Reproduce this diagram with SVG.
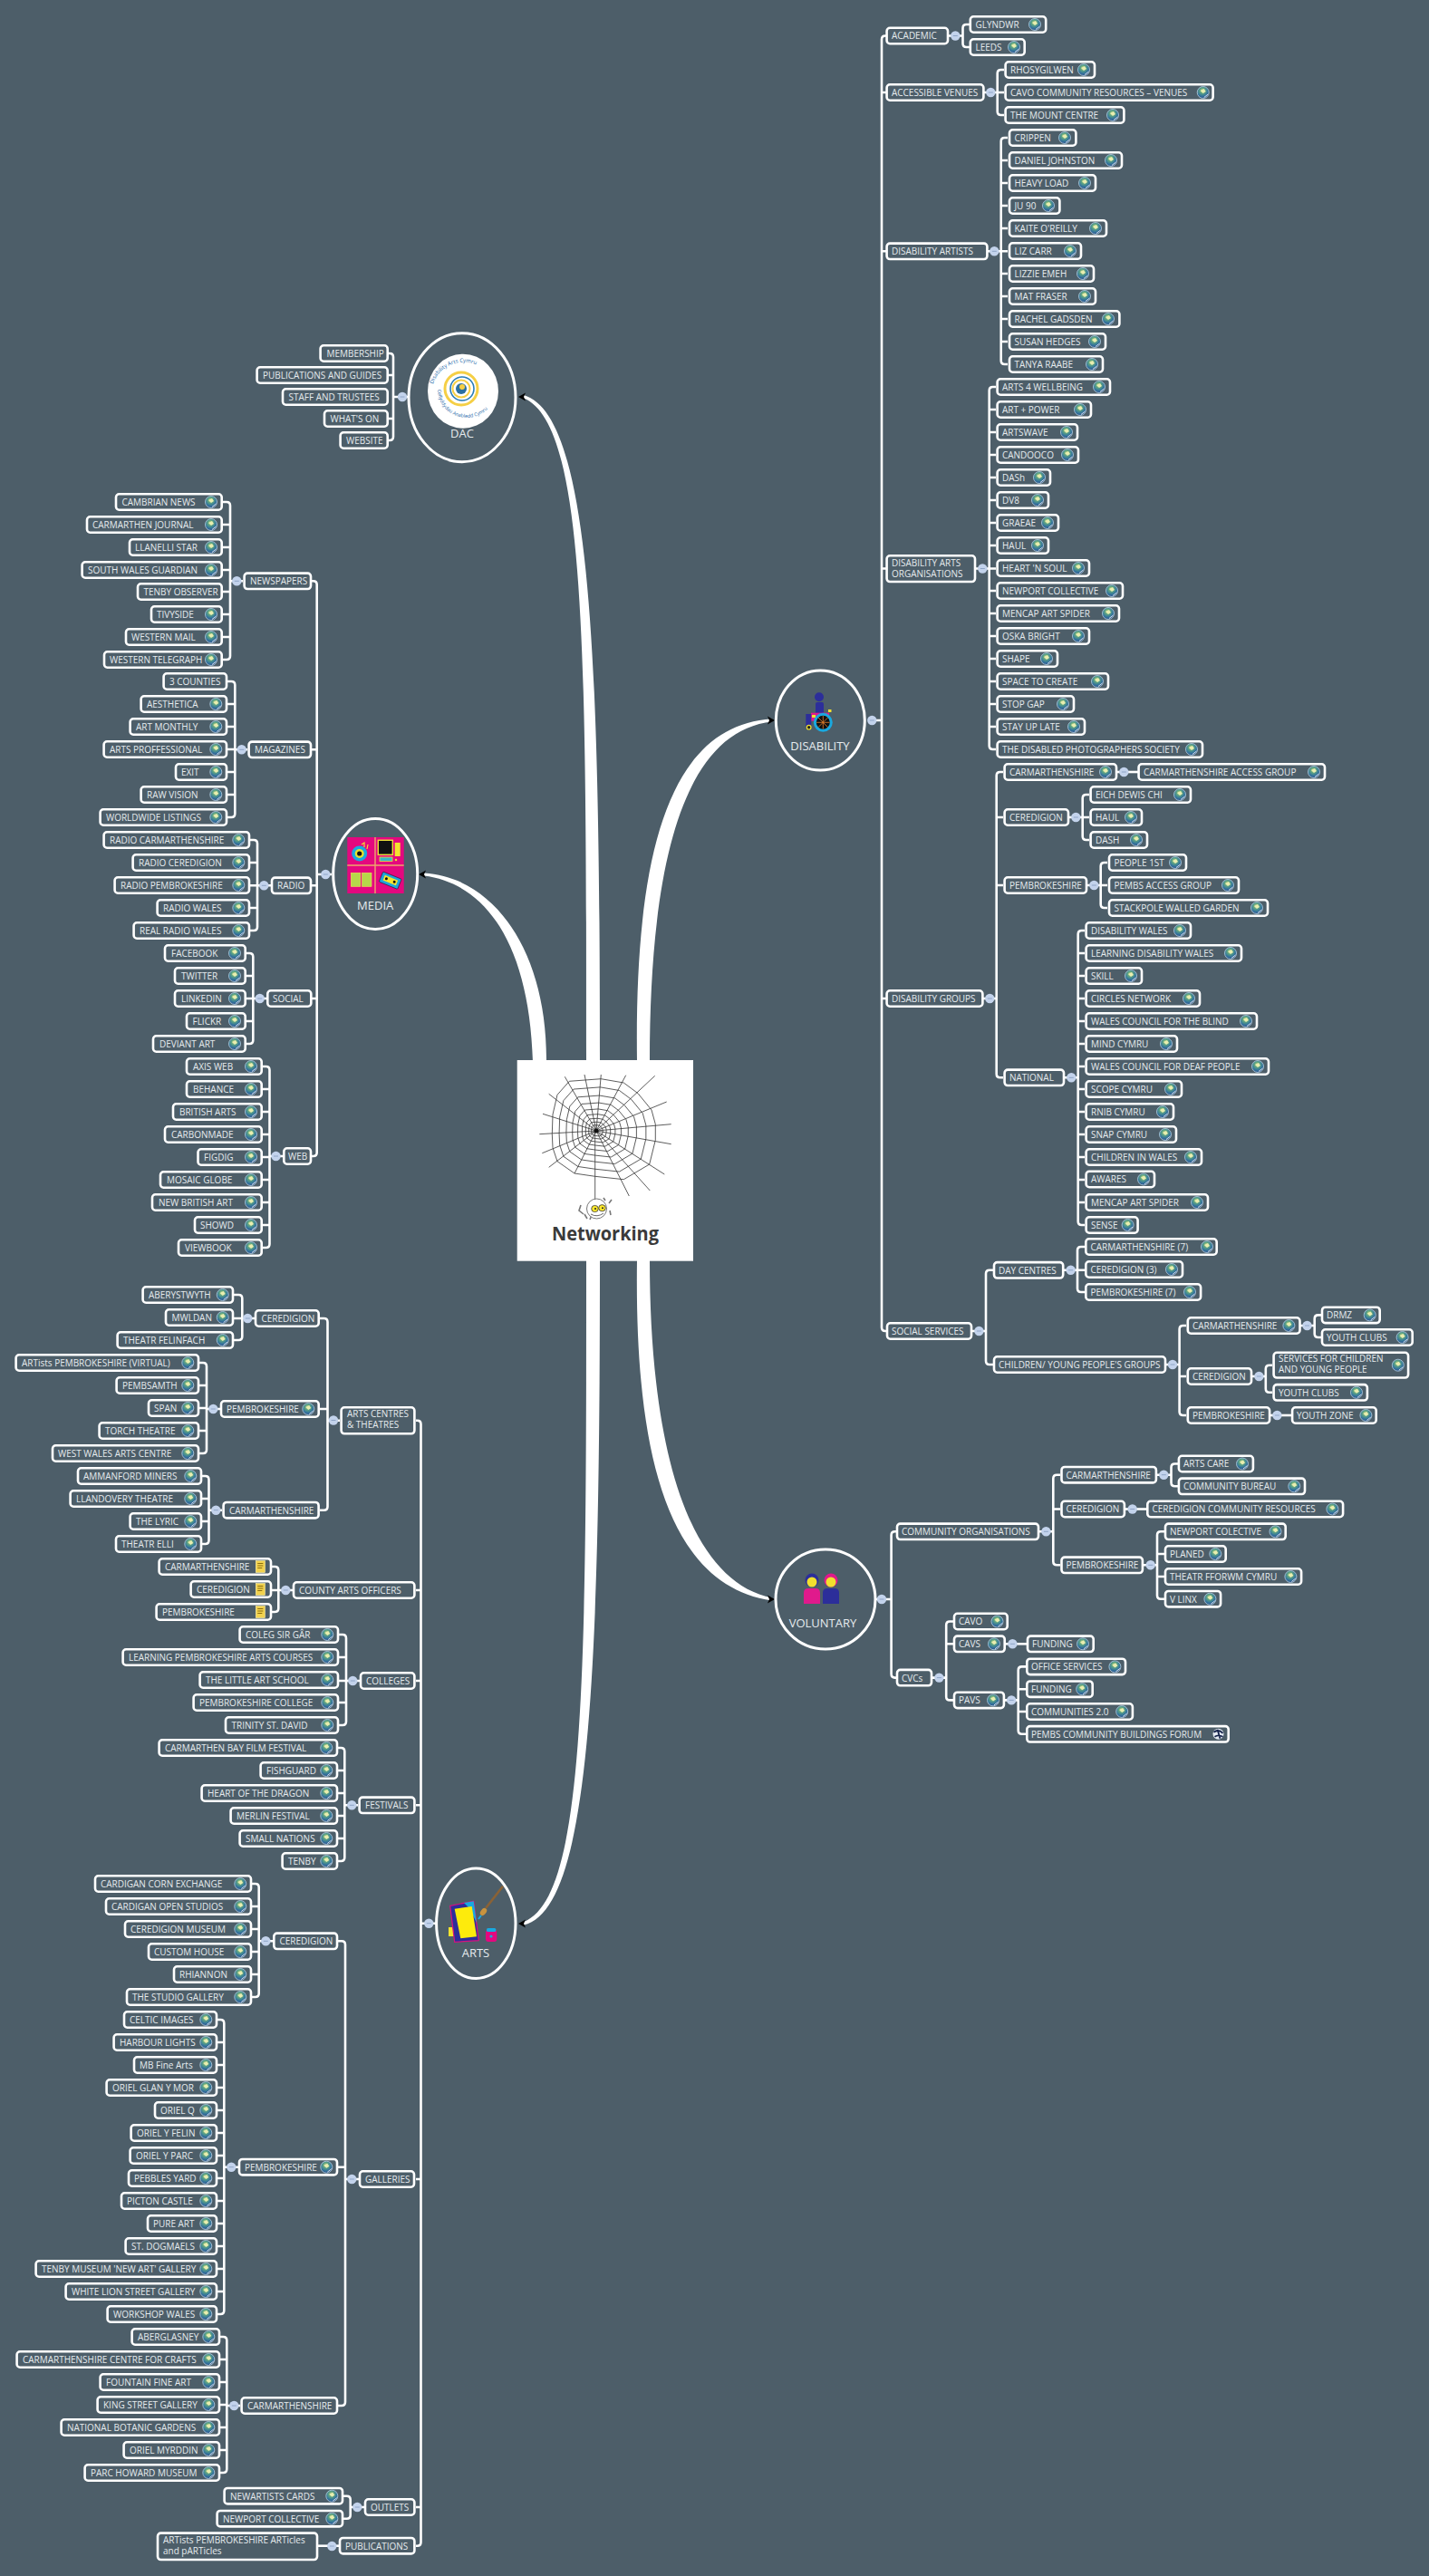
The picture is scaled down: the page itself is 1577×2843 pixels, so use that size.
<svg xmlns="http://www.w3.org/2000/svg" width="1577" height="2843" viewBox="0 0 1577 2843">
<style>
.n rect{fill:#4d5e69;stroke:#fff;stroke-width:2.6;rx:3.5px}
.n text{font-family:"Open Sans","Noto Sans",sans-serif;font-size:11px;fill:#e6ebee;transform-box:fill-box;transform-origin:0 50%;transform:scaleX(.907)}
.m ellipse.o{fill:#4d5e69;stroke:#fff;stroke-width:3}
.m text.l{font-family:"Open Sans","Noto Sans",sans-serif;font-size:13px;fill:#e6ebee;text-anchor:middle}
#links path{fill:none;stroke:#fff;stroke-width:2.6}
#trunks path{fill:#fff;stroke:none}
</style>
<defs>
<radialGradient id="gg" cx=".45" cy=".35" r=".7"><stop offset="0" stop-color="#dfe27a"/><stop offset=".3" stop-color="#5fa583"/><stop offset=".65" stop-color="#33759c"/><stop offset="1" stop-color="#2c4486"/></radialGradient>
<g id="g"><circle r="6.5" fill="url(#gg)" stroke="#a9c6d8" stroke-width=".9"/><path d="M-3-2 1-4 3-1 0 1z" fill="#e8eeb0"/><path d="M1 5.5 5.5 2" stroke="#fff" stroke-width=".8" fill="none"/></g>
<g id="x"><circle r="5.2" fill="#c3d3ec"/><path d="M-2.5 0H2.5" stroke="#8ea4c6" stroke-width="1"/></g>
<g id="k"><rect x="-5" y="-6.5" width="10" height="13" fill="#f2d24e" stroke="#fff3b0" stroke-width=".6"/><path d="M-3-3.5H3M-3-1H3M-3 1.5H2" stroke="#8a6d10" stroke-width="1"/></g>
<g id="d"><circle r="6" fill="#e4eaf2"/><path d="M-5-2Q0-6 5-1M-4 3Q0 0 5 3M-1-5 2 5" stroke="#14224a" stroke-width="1.8" fill="none"/></g>
<polygon id="ring" points="628.3,1193.3 663.3,1190.7 688.3,1195 704,1206.7 719,1225 723.3,1240.7 723.3,1258.3 716.7,1285 688.3,1301.7 656.7,1298.3 634,1295 615,1281.7 610,1266.7 609.3,1251.7 610,1230 615,1208.3" fill="none" stroke="#333" stroke-width=".8" vector-effect="non-scaling-stroke"/>
<path id="dacTop" d="M478 424A35 34 0 0 1 545 424"/>
<path id="dacBot" d="M483 430A32 31 0 0 0 541 448"/>
</defs>
<rect width="1577" height="2843" fill="#4d5e69"/>
<g id="trunks">
<path d="M588 1172C584 1040 535 975 468 966.5L468 963.5C545 968 604 1050 603 1172Z"/>
<path d="M647 1172C647 720 647 468 578 439.5L578 436C652 458 662 720 662 1172Z"/>
<path d="M703 1172C700 950 735 800 852 793.5L852 796.5C755 807 717 950 717 1172Z"/>
<path d="M647 1390C647 1842 647 2094 578 2121L578 2124.5C652 2108 662 1842 662 1390Z"/>
<path d="M703 1390C700 1600 735 1750 852 1766.5L852 1763.5C760 1745 717 1600 717 1390Z"/>
<polygon points="462,965 470,960.5 468,965 470,969.5"/>
<polygon points="572,438 580,433.5 578,438 580,442.5"/>
<polygon points="855,795 847,790.5 849,795 847,799.5"/>
<polygon points="572,2123 580,2118.5 578,2123 580,2127.5"/>
<polygon points="855,1765 847,1760.5 849,1765 847,1769.5"/>
</g>
<g id="links">
<path d="M978 39.5H977Q973 39.5 973 43.5V1465Q973 1469 977 1469H979M973 102H978M973 277.3H978M973 627.5H978M973 1102H978M966 795H973"/>
<path d="M1047 39.5H1062.5M1070 27H1066.5Q1062.5 27 1062.5 31V48Q1062.5 52 1066.5 52H1070"/>
<path d="M1086 102H1108M1108 77H1104.7Q1100.7 77 1100.7 81V123Q1100.7 127 1104.7 127H1108"/>
<path d="M1090 277.3H1112M1112 152H1108.7Q1104.7 152 1104.7 156V398Q1104.7 402 1108.7 402H1112M1105 177H1112M1105 202H1112M1105 227H1112M1105 252H1112M1105 302H1112M1105 327H1112M1105 352H1112M1105 377H1112"/>
<path d="M1077 627.5H1099M1099 427H1095.7Q1091.7 427 1091.7 431V823Q1091.7 827 1095.7 827H1099M1092 452H1099M1092 477H1099M1092 502H1099M1092 527H1099M1092 552H1099M1092 577H1099M1092 602H1099M1092 652H1099M1092 677H1099M1092 702H1099M1092 727H1099M1092 752H1099M1092 777H1099M1092 802H1099"/>
<path d="M1085 1102H1099.7M1107 852H1103.7Q1099.7 852 1099.7 856V1185.3Q1099.7 1189.3 1103.7 1189.3H1107M1100 902H1107M1100 977H1107"/>
<path d="M1233 852H1256"/>
<path d="M1180 902H1202M1202 877H1198.7Q1194.7 877 1194.7 881V923Q1194.7 927 1198.7 927H1202"/>
<path d="M1200 977H1222M1222 952H1218.7Q1214.7 952 1214.7 956V998Q1214.7 1002 1218.7 1002H1222"/>
<path d="M1175 1189.3H1189.7M1197 1027H1193.7Q1189.7 1027 1189.7 1031V1348Q1189.7 1352 1193.7 1352H1197M1190 1052H1197M1190 1077H1197M1190 1102H1197M1190 1127H1197M1190 1152H1197M1190 1177H1197M1190 1202H1197M1190 1227H1197M1190 1252H1197M1190 1277H1197M1190 1302H1197M1190 1327H1197"/>
<path d="M1073 1469H1088M1096 1401.8H1092Q1088 1401.8 1088 1405.8V1502Q1088 1506 1092 1506H1096"/>
<path d="M1174 1401.8H1197M1197 1376H1193Q1189 1376 1189 1380V1422Q1189 1426 1193 1426H1197"/>
<path d="M1287 1506H1301.6M1309 1463H1305.6Q1301.6 1463 1301.6 1467V1558Q1301.6 1562 1305.6 1562H1309M1302 1519H1309"/>
<path d="M1435 1463H1450.7M1458 1451.4H1454.7Q1450.7 1451.4 1450.7 1455.4V1472Q1450.7 1476 1454.7 1476H1458"/>
<path d="M1382 1519H1396.8M1404 1506.7H1400.8Q1396.8 1506.7 1396.8 1510.7V1532.8Q1396.8 1536.8 1400.8 1536.8H1404"/>
<path d="M1402 1562H1426"/>
<path d="M966 1765H983.6M989 1690.3H987.6Q983.6 1690.3 983.6 1694.3V1847.6Q983.6 1851.6 987.6 1851.6H989"/>
<path d="M1147 1690.3H1162.3M1170 1627.7H1166.3Q1162.3 1627.7 1162.3 1631.7V1723.3Q1162.3 1727.3 1166.3 1727.3H1170M1162 1665.5H1170"/>
<path d="M1277 1627.7H1292.5M1300 1615.5H1296.5Q1292.5 1615.5 1292.5 1619.5V1636.3Q1292.5 1640.3 1296.5 1640.3H1300"/>
<path d="M1242 1665.5H1266"/>
<path d="M1262 1727.3H1277M1285 1690.3H1281Q1277 1690.3 1277 1694.3V1760.7Q1277 1764.7 1281 1764.7H1285M1277 1715H1285M1277 1740H1285"/>
<path d="M1029 1851.6H1044.2M1052 1789.5H1048.2Q1044.2 1789.5 1044.2 1793.5V1872.4Q1044.2 1876.4 1048.2 1876.4H1052M1044 1814.3H1052"/>
<path d="M1110 1814.3H1133"/>
<path d="M1109 1876.4H1123.7M1132 1839.4H1127.7Q1123.7 1839.4 1123.7 1843.4V1909.8Q1123.7 1913.8 1127.7 1913.8H1132M1124 1864.2H1132M1124 1889H1132"/>
<path d="M450 438H434M429 390H430Q434 390 434 394V482Q434 486 430 486H429M434 414H429M434 462H429"/>
<path d="M366 965H349.7M344 641.3H345.7Q349.7 641.3 349.7 645.3V1272Q349.7 1276 345.7 1276H344M350 827.3H344M350 977.3H344M350 1102H344"/>
<path d="M268 641.3H254M246 554H250Q254 554 254 558V724Q254 728 250 728H246M254 579H246M254 604H246M254 629H246M254 653H246M254 678H246M254 703H246"/>
<path d="M273 827.3H259.3M251 752H255.3Q259.3 752 259.3 756V898Q259.3 902 255.3 902H251M259 777H251M259 802H251M259 827H251M259 852H251M259 877H251"/>
<path d="M299 977.3H276M276 927H280Q284 927 284 931V1023Q284 1027 280 1027H276M284 952H276M284 1002H276"/>
<path d="M294 1102H272M272 1052H275.3Q279.3 1052 279.3 1056V1148Q279.3 1152 275.3 1152H272M279 1077H272M279 1127H272"/>
<path d="M312 1276H297.5M290 1177H293.5Q297.5 1177 297.5 1181V1373Q297.5 1377 293.5 1377H290M297 1202H290M297 1227H290M297 1252H290M297 1277H290M297 1302H290M297 1327H290M297 1352H290"/>
<path d="M481 2122.7H464.5M459 1567.7H460.5Q464.5 1567.7 464.5 1571.7V2805.7Q464.5 2809.7 460.5 2809.7H459M464 1755H459M464 1855H459M464 1992.3H459M464 2405H459M464 2767H459"/>
<path d="M375 1567.7H361.5M353 1455H357.5Q361.5 1455 361.5 1459V1662.7Q361.5 1666.7 357.5 1666.7H353M361 1555H353"/>
<path d="M281 1455H258M258 1429H263.3Q267.3 1429 267.3 1433V1475Q267.3 1479 263.3 1479H258"/>
<path d="M243 1555H228M220 1504H224Q228 1504 228 1508V1600Q228 1604 224 1604H220M228 1529H220M228 1554H220M228 1579H220"/>
<path d="M245 1666.7H230.5M223 1629H226.5Q230.5 1629 230.5 1633V1700Q230.5 1704 226.5 1704H223M230 1654H223M230 1679H223"/>
<path d="M323 1755H300M300 1729H303.3Q307.3 1729 307.3 1733V1775Q307.3 1779 303.3 1779H300"/>
<path d="M397 1855H374M374 1804H378Q382 1804 382 1808V1900Q382 1904 378 1904H374M382 1829H374M382 1879H374"/>
<path d="M395 1992.3H380.3M373 1929H376.3Q380.3 1929 380.3 1933V2050Q380.3 2054 376.3 2054H373M380 1954H373M380 1979H373M380 2004H373M380 2029H373"/>
<path d="M396 2405H381M373 2142.3H377Q381 2142.3 381 2146.3V2651Q381 2655 377 2655H373M381 2391.7H373"/>
<path d="M301 2142.3H285.7M278 2079H281.7Q285.7 2079 285.7 2083V2200Q285.7 2204 281.7 2204H278M286 2104H278M286 2129H278M286 2154H278M286 2179H278"/>
<path d="M263 2391.7H247.3M240 2229H243.3Q247.3 2229 247.3 2233V2550Q247.3 2554 243.3 2554H240M247 2254H240M247 2279H240M247 2304H240M247 2329H240M247 2354H240M247 2379H240M247 2404H240M247 2429H240M247 2454H240M247 2479H240M247 2504H240M247 2529H240"/>
<path d="M265 2655H250.3M243 2579H246.3Q250.3 2579 250.3 2583V2725Q250.3 2729 246.3 2729H243M250 2604H243M250 2629H243M250 2654H243M250 2679H243M250 2704H243"/>
<path d="M402 2767H386.7M379 2754.7H382.7Q386.7 2754.7 386.7 2758.7V2775.7Q386.7 2779.7 382.7 2779.7H379"/>
<path d="M374 2809.7H351"/>
</g>
<g id="central">
<rect x="570.7" y="1170" width="194.3" height="221.7" fill="#fff"/>
<g id="web" stroke="#333" stroke-width=".8" fill="none">
<path d="M658 1248L623.3 1188.3M658 1248L645 1186M658 1248L663.3 1186M658 1248L690.7 1186.7M658 1248L722.7 1187.3M658 1248L735.7 1216M658 1248L740.7 1240.7M658 1248L740.7 1262.7M658 1248L733.3 1296M658 1248L717.3 1314M658 1248L694.3 1320M658 1248L634 1295M658 1248L605.7 1288.3M658 1248L598.3 1272.7M658 1248L595.3 1251.7M658 1248L599 1229.3M658 1248L605.7 1207.3M656.7 1248V1325"/>
<use href="#ring"/>
<use href="#ring" transform="translate(658 1248) scale(.84) translate(-658 -1248)"/>
<use href="#ring" transform="translate(658 1248) scale(.68) translate(-658 -1248)"/>
<use href="#ring" transform="translate(658 1248) scale(.54) translate(-658 -1248)"/>
<use href="#ring" transform="translate(658 1248) scale(.42) translate(-658 -1248)"/>
<use href="#ring" transform="translate(658 1248) scale(.32) translate(-658 -1248)"/>
<use href="#ring" transform="translate(658 1248) scale(.24) translate(-658 -1248)"/>
<use href="#ring" transform="translate(658 1248) scale(.17) translate(-658 -1248)"/>
<use href="#ring" transform="translate(658 1248) scale(.11) translate(-658 -1248)"/>
<circle cx="658" cy="1248" r="2.5" fill="#111" stroke="none"/>
</g>
<g id="spider">
<path d="M641 1330 639 1336 644 1340M645 1340 648 1345M653 1341 651 1346M672 1328 675 1324M673 1336 674 1341M668 1325 666 1322" fill="none" stroke="#777" stroke-width="1.6"/>
<circle cx="658.5" cy="1334" r="11" fill="#fff" stroke="#777" stroke-width="1"/>
<ellipse cx="656.5" cy="1334" rx="3.8" ry="3.6" fill="#ffe92a" stroke="#333" stroke-width=".8"/>
<ellipse cx="664.5" cy="1333.2" rx="3.8" ry="3.6" fill="#ffe92a" stroke="#333" stroke-width=".8"/>
<circle cx="657" cy="1334" r="1" fill="#222"/><circle cx="665" cy="1333.2" r="1" fill="#222"/>
<path d="M652 1340Q659 1344 666 1339" fill="none" stroke="#555" stroke-width=".9"/>
</g>
<text x="668" y="1369" text-anchor="middle" font-family="'Open Sans','Noto Sans',sans-serif" font-size="20.5" font-weight="700" fill="#3a3a3a" textLength="118" lengthAdjust="spacingAndGlyphs">Networking</text>
</g>
<g id="main">
<g id="dac" class="m"><ellipse class="o" cx="510" cy="438.7" rx="59" ry="71"/>
<ellipse cx="511" cy="431.7" rx="39" ry="41" fill="#fff"/>
<circle cx="509" cy="429" r="18" fill="none" stroke="#f5cf45" stroke-width="3"/><circle cx="510" cy="429" r="13" fill="none" stroke="#2a7db8" stroke-width="1.6"/><circle cx="509" cy="429" r="9.5" fill="none" stroke="#f5cf45" stroke-width="2"/><circle cx="509" cy="429" r="6" fill="#2b6f9f"/><circle cx="510" cy="427" r="3" fill="#f5cf45"/>
<text font-family="'Open Sans',sans-serif" font-size="6" fill="#2467a8"><textPath href="#dacTop">Disability Arts Cymru</textPath></text>
<text font-family="'Open Sans',sans-serif" font-size="5.4" fill="#2467a8"><textPath href="#dacBot">Celfyddydau Anabledd Cymru</textPath></text>
<text class="l" x="510" y="483">DAC</text></g>
<g id="media" class="m"><ellipse class="o" cx="414.2" cy="964.5" rx="46.5" ry="61"/>
<rect x="383.3" y="924" width="62.4" height="62" fill="#e4087f"/>
<path d="M414 924V986M383.3 955H445.7" stroke="#eba86c" stroke-width="1.4"/>
<circle cx="396.7" cy="942" r="8.5" fill="#19a9e0"/><circle cx="396.7" cy="942" r="5" fill="#e6e030"/><circle cx="396.7" cy="942" r="2.6" fill="#111"/>
<path d="M399 932 402 930V935M406 932 405 937" stroke="#f4dc30" stroke-width="1.2" fill="none"/>
<rect x="417.3" y="927.3" width="16" height="16" fill="#111" stroke="#ecdf3a" stroke-width="1.4"/>
<rect x="435.7" y="930" width="6" height="15" fill="#f3e32e"/><rect x="419" y="946" width="14" height="4.6" fill="#39b6c8" stroke="#ecdf3a" stroke-width=".8"/><circle cx="437" cy="949" r="1.2" fill="#f3e32e"/>
<rect x="387.3" y="963.3" width="10.5" height="15" fill="#b6d84a" stroke="#e9ea55" stroke-width=".6"/><rect x="399.5" y="963.3" width="10.5" height="15" fill="#b6d84a" stroke="#e9ea55" stroke-width=".6"/>
<g transform="rotate(22 430.7 971.7)"><rect x="419.7" y="965.7" width="22" height="12" rx="1" fill="#1fa5dc" stroke="#111" stroke-width=".5"/><rect x="423" y="968.5" width="15.5" height="6" fill="#f4e52e"/><circle cx="426" cy="971.5" r="1.5" fill="#111"/><circle cx="435.5" cy="971.5" r="1.5" fill="#111"/></g>
<text class="l" x="414.2" y="1004">MEDIA</text></g>
<g id="disability" class="m"><ellipse class="o" cx="905.3" cy="795" rx="49" ry="55"/>
<circle cx="904" cy="769.3" r="5" fill="#2c2e9a"/><rect x="900" y="775" width="9" height="13.5" rx="2" fill="#2c2e9a"/>
<rect x="895" y="786.7" width="20" height="9" fill="#e01a8c"/><rect x="889.3" y="788" width="6" height="13.5" fill="#2c2e9a"/>
<rect x="896" y="789" width="4" height="3" fill="#f2e02e"/><rect x="914" y="783" width="3.5" height="3" fill="#f2e02e"/>
<circle cx="908.3" cy="797.3" r="9" fill="#111" stroke="#19a9e0" stroke-width="3"/>
<path d="M908.3 790V804.6M901 797.3H915.6M903 792 913.6 802.6M913.6 792 903 802.6" stroke="#e8802a" stroke-width=".8"/>
<circle cx="892.7" cy="802.7" r="2.3" fill="#222" stroke="#f2e02e" stroke-width="1.2"/>
<text class="l" x="905" y="828">DISABILITY</text></g>
<g id="voluntary" class="m"><ellipse class="o" cx="911" cy="1765" rx="55" ry="55"/>
<circle cx="896" cy="1744" r="7.5" fill="#2c2e9a"/><circle cx="896" cy="1746" r="5.5" fill="#f2e02e"/>
<circle cx="917" cy="1744" r="7.5" fill="#e01a8c"/><circle cx="917" cy="1746" r="5.5" fill="#f2e02e"/>
<path d="M887 1770V1758Q887 1753 892 1753H900Q905 1753 905 1758V1770Z" fill="#e01a8c"/>
<path d="M908 1770V1758Q908 1753 913 1753H921Q926 1753 926 1758V1770Z" fill="#2c2e9a"/>
<text class="l" x="908" y="1796">VOLUNTARY</text></g>
<g id="arts" class="m"><ellipse class="o" cx="525.3" cy="2122.7" rx="43.7" ry="60.7"/>
<rect x="495" y="2127" width="6" height="10" fill="#f3e32e"/>
<polygon points="496.7,2103.3 522.7,2098.3 528.3,2141.7 501.7,2143.3" fill="#2c2e9a" stroke="#d6127f" stroke-width="1.2"/>
<polygon points="512,2100 522.7,2098.3 526,2122 518,2106" fill="#19a9e0"/>
<polygon points="501.7,2106.7 520.7,2104 526,2137.3 508.3,2139.3" fill="#fdeb0c"/>
<path d="M555 2081.7 536 2106" stroke="#8a6236" stroke-width="2.6"/><ellipse cx="533.5" cy="2110" rx="3" ry="4.5" transform="rotate(38 533.5 2110)" fill="#c9933e"/><path d="M531 2114 528 2118" stroke="#19a9e0" stroke-width="2"/>
<rect x="536" y="2130" width="12.3" height="13" rx="3" fill="#e4087f"/><rect x="537" y="2128" width="10.3" height="4" rx="1.5" fill="#19a9e0"/><circle cx="542" cy="2137" r="1.6" fill="#19a9e0"/>
<text class="l" x="525" y="2160">ARTS</text></g>
</g>
<g id="nodes">
<g class="n" id="n1"><rect x="978.6" y="30.8" width="67.4" height="17.4"/><text x="984" y="43.5">ACADEMIC</text></g>
<g class="n" id="n2"><rect x="1070.8" y="18.3" width="83.4" height="17.4"/><text x="1076.5" y="31">GLYNDWR</text><use href="#g" x="1142" y="27"/></g>
<g class="n" id="n3"><rect x="1070.8" y="43.3" width="59.9" height="17.4"/><text x="1076.5" y="56">LEEDS</text><use href="#g" x="1119" y="52"/></g>
<g class="n" id="n4"><rect x="978.6" y="93.3" width="106.8" height="17.4"/><text x="984" y="106">ACCESSIBLE VENUES</text></g>
<g class="n" id="n5"><rect x="1109.6" y="68.3" width="98.4" height="17.4"/><text x="1115" y="81">RHOSYGILWEN</text><use href="#g" x="1196" y="77"/></g>
<g class="n" id="n6"><rect x="1109.6" y="93.3" width="229" height="17.4"/><text x="1115" y="106">CAVO COMMUNITY RESOURCES – VENUES</text><use href="#g" x="1327.7" y="102"/></g>
<g class="n" id="n7"><rect x="1109.6" y="118.3" width="130.8" height="17.4"/><text x="1115" y="131">THE MOUNT CENTRE</text><use href="#g" x="1228" y="127"/></g>
<g class="n" id="n8"><rect x="978.6" y="268.6" width="110.8" height="17.4"/><text x="984" y="281.3">DISABILITY ARTISTS</text></g>
<g class="n" id="n9"><rect x="1114" y="143.3" width="73.4" height="17.4"/><text x="1119.5" y="156">CRIPPEN</text><use href="#g" x="1175" y="152"/></g>
<g class="n" id="n10"><rect x="1114" y="168.3" width="124" height="17.4"/><text x="1119.5" y="181">DANIEL JOHNSTON</text><use href="#g" x="1226" y="177"/></g>
<g class="n" id="n11"><rect x="1114" y="193.3" width="95" height="17.4"/><text x="1119.5" y="206">HEAVY LOAD</text><use href="#g" x="1197" y="202"/></g>
<g class="n" id="n12"><rect x="1114" y="218.3" width="55.4" height="17.4"/><text x="1119.5" y="231">JU 90</text><use href="#g" x="1157" y="227"/></g>
<g class="n" id="n13"><rect x="1114" y="243.3" width="107" height="17.4"/><text x="1119.5" y="256">KAITE O'REILLY</text><use href="#g" x="1209" y="252"/></g>
<g class="n" id="n14"><rect x="1114" y="268.3" width="79" height="17.4"/><text x="1119.5" y="281">LIZ CARR</text><use href="#g" x="1181" y="277"/></g>
<g class="n" id="n15"><rect x="1114" y="293.3" width="93" height="17.4"/><text x="1119.5" y="306">LIZZIE EMEH</text><use href="#g" x="1195" y="302"/></g>
<g class="n" id="n16"><rect x="1114" y="318.3" width="95" height="17.4"/><text x="1119.5" y="331">MAT FRASER</text><use href="#g" x="1197" y="327"/></g>
<g class="n" id="n17"><rect x="1114" y="343.3" width="121.4" height="17.4"/><text x="1119.5" y="356">RACHEL GADSDEN</text><use href="#g" x="1223" y="352"/></g>
<g class="n" id="n18"><rect x="1114" y="368.3" width="106" height="17.4"/><text x="1119.5" y="381">SUSAN HEDGES</text><use href="#g" x="1208" y="377"/></g>
<g class="n" id="n19"><rect x="1114" y="393.3" width="103" height="17.4"/><text x="1119.5" y="406">TANYA RAABE</text><use href="#g" x="1205" y="402"/></g>
<g class="n" id="n20"><rect x="978.6" y="613.3" width="97.4" height="28.7"/><text x="984" y="625.3">DISABILITY ARTS</text><text x="984" y="637">ORGANISATIONS</text></g>
<g class="n" id="n21"><rect x="1100.6" y="418.3" width="124.4" height="17.4"/><text x="1106" y="431">ARTS 4 WELLBEING</text><use href="#g" x="1213" y="427"/></g>
<g class="n" id="n22"><rect x="1100.6" y="443.3" width="103.4" height="17.4"/><text x="1106" y="456">ART + POWER</text><use href="#g" x="1192" y="452"/></g>
<g class="n" id="n23"><rect x="1100.6" y="468.3" width="88.4" height="17.4"/><text x="1106" y="481">ARTSWAVE</text><use href="#g" x="1177" y="477"/></g>
<g class="n" id="n24"><rect x="1100.6" y="493.3" width="89.4" height="17.4"/><text x="1106" y="506">CANDOOCO</text><use href="#g" x="1178" y="502"/></g>
<g class="n" id="n25"><rect x="1100.6" y="518.3" width="58.4" height="17.4"/><text x="1106" y="531">DASh</text><use href="#g" x="1147" y="527"/></g>
<g class="n" id="n26"><rect x="1100.6" y="543.3" width="56.4" height="17.4"/><text x="1106" y="556">DV8</text><use href="#g" x="1145" y="552"/></g>
<g class="n" id="n27"><rect x="1100.6" y="568.3" width="67.4" height="17.4"/><text x="1106" y="581">GRAEAE</text><use href="#g" x="1156" y="577"/></g>
<g class="n" id="n28"><rect x="1100.6" y="593.3" width="56.4" height="17.4"/><text x="1106" y="606">HAUL</text><use href="#g" x="1145" y="602"/></g>
<g class="n" id="n29"><rect x="1100.6" y="618.3" width="101.4" height="17.4"/><text x="1106" y="631">HEART 'N SOUL</text><use href="#g" x="1190" y="627"/></g>
<g class="n" id="n30"><rect x="1100.6" y="643.3" width="138.4" height="17.4"/><text x="1106" y="656">NEWPORT COLLECTIVE</text><use href="#g" x="1227" y="652"/></g>
<g class="n" id="n31"><rect x="1100.6" y="668.3" width="134.4" height="17.4"/><text x="1106" y="681">MENCAP ART SPIDER</text><use href="#g" x="1223" y="677"/></g>
<g class="n" id="n32"><rect x="1100.6" y="693.3" width="101.4" height="17.4"/><text x="1106" y="706">OSKA BRIGHT</text><use href="#g" x="1190" y="702"/></g>
<g class="n" id="n33"><rect x="1100.6" y="718.3" width="66.4" height="17.4"/><text x="1106" y="731">SHAPE</text><use href="#g" x="1155" y="727"/></g>
<g class="n" id="n34"><rect x="1100.6" y="743.3" width="122.4" height="17.4"/><text x="1106" y="756">SPACE TO CREATE</text><use href="#g" x="1211" y="752"/></g>
<g class="n" id="n35"><rect x="1100.6" y="768.3" width="84.4" height="17.4"/><text x="1106" y="781">STOP GAP</text><use href="#g" x="1173" y="777"/></g>
<g class="n" id="n36"><rect x="1100.6" y="793.3" width="96.4" height="17.4"/><text x="1106" y="806">STAY UP LATE</text><use href="#g" x="1185" y="802"/></g>
<g class="n" id="n37"><rect x="1100.6" y="818.3" width="226.4" height="17.4"/><text x="1106" y="831">THE DISABLED PHOTOGRAPHERS SOCIETY</text><use href="#g" x="1315" y="827"/></g>
<g class="n" id="n38"><rect x="978.6" y="1093.3" width="105.8" height="17.4"/><text x="984" y="1106">DISABILITY GROUPS</text></g>
<g class="n" id="n39"><rect x="1108.6" y="843.3" width="123.4" height="17.4"/><text x="1114" y="856">CARMARTHENSHIRE</text><use href="#g" x="1220" y="852"/></g>
<g class="n" id="n40"><rect x="1256.6" y="843.3" width="205.4" height="17.4"/><text x="1262" y="856">CARMARTHENSHIRE ACCESS GROUP</text><use href="#g" x="1450" y="852"/></g>
<g class="n" id="n41"><rect x="1108.6" y="893.3" width="70.4" height="17.4"/><text x="1114" y="906">CEREDIGION</text></g>
<g class="n" id="n42"><rect x="1203.6" y="868.3" width="110.4" height="17.4"/><text x="1209" y="881">EICH DEWIS CHI</text><use href="#g" x="1302" y="877"/></g>
<g class="n" id="n43"><rect x="1203.6" y="893.3" width="56.4" height="17.4"/><text x="1209" y="906">HAUL</text><use href="#g" x="1248" y="902"/></g>
<g class="n" id="n44"><rect x="1203.6" y="918.3" width="62.4" height="17.4"/><text x="1209" y="931">DASH</text><use href="#g" x="1254" y="927"/></g>
<g class="n" id="n45"><rect x="1108.6" y="968.3" width="90.4" height="17.4"/><text x="1114" y="981">PEMBROKESHIRE</text></g>
<g class="n" id="n46"><rect x="1224" y="943.3" width="85" height="17.4"/><text x="1229.5" y="956">PEOPLE 1ST</text><use href="#g" x="1297" y="952"/></g>
<g class="n" id="n47"><rect x="1224" y="968.3" width="143" height="17.4"/><text x="1229.5" y="981">PEMBS ACCESS GROUP</text><use href="#g" x="1355" y="977"/></g>
<g class="n" id="n48"><rect x="1224" y="993.3" width="175" height="17.4"/><text x="1229.5" y="1006">STACKPOLE WALLED GARDEN</text><use href="#g" x="1387" y="1002"/></g>
<g class="n" id="n49"><rect x="1108.6" y="1180.6" width="65.4" height="17.4"/><text x="1114" y="1193.3">NATIONAL</text></g>
<g class="n" id="n50"><rect x="1198.6" y="1018.3" width="115.4" height="17.4"/><text x="1204" y="1031">DISABILITY WALES</text><use href="#g" x="1302" y="1027"/></g>
<g class="n" id="n51"><rect x="1198.6" y="1043.3" width="171.4" height="17.4"/><text x="1204" y="1056">LEARNING DISABILITY WALES</text><use href="#g" x="1358" y="1052"/></g>
<g class="n" id="n52"><rect x="1198.6" y="1068.3" width="61.4" height="17.4"/><text x="1204" y="1081">SKILL</text><use href="#g" x="1248" y="1077"/></g>
<g class="n" id="n53"><rect x="1198.6" y="1093.3" width="125.4" height="17.4"/><text x="1204" y="1106">CIRCLES NETWORK</text><use href="#g" x="1312" y="1102"/></g>
<g class="n" id="n54"><rect x="1198.6" y="1118.3" width="188.4" height="17.4"/><text x="1204" y="1131">WALES COUNCIL FOR THE BLIND</text><use href="#g" x="1375" y="1127"/></g>
<g class="n" id="n55"><rect x="1198.6" y="1143.3" width="100.4" height="17.4"/><text x="1204" y="1156">MIND CYMRU</text><use href="#g" x="1287" y="1152"/></g>
<g class="n" id="n56"><rect x="1198.6" y="1168.3" width="201.4" height="17.4"/><text x="1204" y="1181">WALES COUNCIL FOR DEAF PEOPLE</text><use href="#g" x="1388" y="1177"/></g>
<g class="n" id="n57"><rect x="1198.6" y="1193.3" width="105.4" height="17.4"/><text x="1204" y="1206">SCOPE CYMRU</text><use href="#g" x="1292" y="1202"/></g>
<g class="n" id="n58"><rect x="1198.6" y="1218.3" width="96.4" height="17.4"/><text x="1204" y="1231">RNIB CYMRU</text><use href="#g" x="1283" y="1227"/></g>
<g class="n" id="n59"><rect x="1198.6" y="1243.3" width="99.4" height="17.4"/><text x="1204" y="1256">SNAP CYMRU</text><use href="#g" x="1286" y="1252"/></g>
<g class="n" id="n60"><rect x="1198.6" y="1268.3" width="127.4" height="17.4"/><text x="1204" y="1281">CHILDREN IN WALES</text><use href="#g" x="1314" y="1277"/></g>
<g class="n" id="n61"><rect x="1198.6" y="1292.8" width="75.4" height="17.4"/><text x="1204" y="1305.5">AWARES</text><use href="#g" x="1262" y="1301.5"/></g>
<g class="n" id="n62"><rect x="1198.6" y="1318.3" width="134.4" height="17.4"/><text x="1204" y="1331">MENCAP ART SPIDER</text><use href="#g" x="1321" y="1327"/></g>
<g class="n" id="n63"><rect x="1198.6" y="1343.3" width="57" height="17.4"/><text x="1204" y="1356">SENSE</text><use href="#g" x="1244.6" y="1352"/></g>
<g class="n" id="n64"><rect x="979" y="1460.3" width="93" height="17.4"/><text x="984" y="1473">SOCIAL SERVICES</text></g>
<g class="n" id="n65"><rect x="1097" y="1393.1" width="76.2" height="17.4"/><text x="1102" y="1405.8">DAY CENTRES</text></g>
<g class="n" id="n66"><rect x="1198.3" y="1367.3" width="144.4" height="17.4"/><text x="1203.5" y="1380">CARMARTHENSHIRE (7)</text><use href="#g" x="1332" y="1376"/></g>
<g class="n" id="n67"><rect x="1198.3" y="1392.3" width="106.7" height="17.4"/><text x="1203.5" y="1405">CEREDIGION (3)</text><use href="#g" x="1293" y="1401"/></g>
<g class="n" id="n68"><rect x="1198.3" y="1417.3" width="126.8" height="17.4"/><text x="1203.5" y="1430">PEMBROKESHIRE (7)</text><use href="#g" x="1313" y="1426"/></g>
<g class="n" id="n69"><rect x="1097" y="1497.3" width="189" height="17.4"/><text x="1102" y="1510">CHILDREN/ YOUNG PEOPLE'S GROUPS</text></g>
<g class="n" id="n70"><rect x="1310.8" y="1454.3" width="123.7" height="17.4"/><text x="1316" y="1467">CARMARTHENSHIRE</text><use href="#g" x="1422.4" y="1463"/></g>
<g class="n" id="n71"><rect x="1459" y="1442.7" width="63.7" height="17.4"/><text x="1464" y="1455.4">DRMZ</text><use href="#g" x="1511.7" y="1451.4"/></g>
<g class="n" id="n72"><rect x="1459" y="1467.3" width="99.7" height="17.4"/><text x="1464" y="1480">YOUTH CLUBS</text><use href="#g" x="1547.6" y="1476"/></g>
<g class="n" id="n73"><rect x="1310.8" y="1510.3" width="70.2" height="17.4"/><text x="1316" y="1523">CEREDIGION</text></g>
<g class="n" id="n74"><rect x="1405.6" y="1492.8" width="148.5" height="27.7"/><text x="1411" y="1503.4">SERVICES FOR CHILDREN</text><text x="1411" y="1515">AND YOUNG PEOPLE</text><use href="#g" x="1542.8" y="1506.7"/></g>
<g class="n" id="n75"><rect x="1405.6" y="1528.1" width="103.3" height="17.4"/><text x="1411" y="1540.8">YOUTH CLUBS</text><use href="#g" x="1497" y="1536.8"/></g>
<g class="n" id="n76"><rect x="1310.8" y="1553.3" width="90.3" height="17.4"/><text x="1316" y="1566">PEMBROKESHIRE</text></g>
<g class="n" id="n77"><rect x="1426.1" y="1553.3" width="92.6" height="17.4"/><text x="1431" y="1566">YOUTH ZONE</text><use href="#g" x="1507.4" y="1562"/></g>
<g class="n" id="n78"><rect x="990" y="1681.6" width="156" height="17.4"/><text x="995" y="1694.3">COMMUNITY ORGANISATIONS</text></g>
<g class="n" id="n79"><rect x="1171.5" y="1619" width="104.4" height="17.4"/><text x="1176.5" y="1631.7">CARMARTHENSHIRE</text></g>
<g class="n" id="n80"><rect x="1300.9" y="1606.8" width="82" height="17.4"/><text x="1306" y="1619.5">ARTS CARE</text><use href="#g" x="1371" y="1615.5"/></g>
<g class="n" id="n81"><rect x="1300.9" y="1631.6" width="139.1" height="17.4"/><text x="1306" y="1644.3">COMMUNITY BUREAU</text><use href="#g" x="1428.3" y="1640.3"/></g>
<g class="n" id="n82"><rect x="1171.5" y="1656.8" width="69.4" height="17.4"/><text x="1176.5" y="1669.5">CEREDIGION</text></g>
<g class="n" id="n83"><rect x="1266.3" y="1656.8" width="215.8" height="17.4"/><text x="1271.5" y="1669.5">CEREDIGION COMMUNITY RESOURCES</text><use href="#g" x="1470.4" y="1665.5"/></g>
<g class="n" id="n84"><rect x="1171.5" y="1718.6" width="89.4" height="17.4"/><text x="1176.5" y="1731.3">PEMBROKESHIRE</text></g>
<g class="n" id="n85"><rect x="1286" y="1681.6" width="132.7" height="17.4"/><text x="1291" y="1694.3">NEWPORT COLECTIVE</text><use href="#g" x="1407.5" y="1690.3"/></g>
<g class="n" id="n86"><rect x="1286" y="1706.3" width="66.7" height="17.4"/><text x="1291" y="1719">PLANED</text><use href="#g" x="1341.3" y="1715"/></g>
<g class="n" id="n87"><rect x="1286" y="1731.3" width="150.1" height="17.4"/><text x="1291" y="1744">THEATR FFORWM CYMRU</text><use href="#g" x="1424.4" y="1740"/></g>
<g class="n" id="n88"><rect x="1286" y="1756" width="61.1" height="17.4"/><text x="1291" y="1768.7">V LINX</text><use href="#g" x="1335.4" y="1764.7"/></g>
<g class="n" id="n89"><rect x="990" y="1842.9" width="38" height="17.4"/><text x="995" y="1855.6">CVCs</text></g>
<g class="n" id="n90"><rect x="1053" y="1780.8" width="58.7" height="17.4"/><text x="1058" y="1793.5">CAVO</text><use href="#g" x="1100.5" y="1789.5"/></g>
<g class="n" id="n91"><rect x="1053" y="1805.6" width="55.7" height="17.4"/><text x="1058" y="1818.3">CAVS</text><use href="#g" x="1097" y="1814.3"/></g>
<g class="n" id="n92"><rect x="1134" y="1805.6" width="72.7" height="17.4"/><text x="1139" y="1818.3">FUNDING</text><use href="#g" x="1195" y="1814.3"/></g>
<g class="n" id="n93"><rect x="1053" y="1867.7" width="54.9" height="17.4"/><text x="1058" y="1880.4">PAVS</text><use href="#g" x="1096" y="1876.4"/></g>
<g class="n" id="n94"><rect x="1133.3" y="1830.7" width="108.7" height="17.4"/><text x="1138" y="1843.4">OFFICE SERVICES</text><use href="#g" x="1230.4" y="1839.4"/></g>
<g class="n" id="n95"><rect x="1133.3" y="1855.5" width="72.4" height="17.4"/><text x="1138" y="1868.2">FUNDING</text><use href="#g" x="1194.2" y="1864.2"/></g>
<g class="n" id="n96"><rect x="1133.3" y="1880.3" width="116.6" height="17.4"/><text x="1138" y="1893">COMMUNITIES 2.0</text><use href="#g" x="1238.2" y="1889"/></g>
<g class="n" id="n97"><rect x="1133.3" y="1905.1" width="222.4" height="17.4"/><text x="1138" y="1917.8">PEMBS COMMUNITY BUILDINGS FORUM</text><use href="#d" x="1344.5" y="1913.8"/></g>
<g class="n" id="n98"><rect x="353.6" y="381.3" width="74.1" height="17.4"/><text x="360.5" y="394">MEMBERSHIP</text></g>
<g class="n" id="n99"><rect x="283.6" y="405.3" width="144.1" height="17.4"/><text x="290" y="418">PUBLICATIONS AND GUIDES</text></g>
<g class="n" id="n100"><rect x="312" y="429.3" width="115.7" height="17.4"/><text x="318.5" y="442">STAFF AND TRUSTEES</text></g>
<g class="n" id="n101"><rect x="358" y="453.3" width="69.7" height="17.4"/><text x="364.5" y="466">WHAT'S ON</text></g>
<g class="n" id="n102"><rect x="375.6" y="477.3" width="52.1" height="17.4"/><text x="382" y="490">WEBSITE</text></g>
<g class="n" id="n103"><rect x="269.6" y="632.6" width="73.4" height="17.4"/><text x="276" y="645.3">NEWSPAPERS</text></g>
<g class="n" id="n104"><rect x="128" y="545.3" width="116.7" height="17.4"/><text x="134.5" y="558">CAMBRIAN NEWS</text><use href="#g" x="233" y="554"/></g>
<g class="n" id="n105"><rect x="96" y="570.3" width="148.7" height="17.4"/><text x="102" y="583">CARMARTHEN JOURNAL</text><use href="#g" x="233" y="579"/></g>
<g class="n" id="n106"><rect x="143" y="595.3" width="101.7" height="17.4"/><text x="149" y="608">LLANELLI STAR</text><use href="#g" x="233" y="604"/></g>
<g class="n" id="n107"><rect x="90.6" y="620.3" width="154.1" height="17.4"/><text x="97" y="633">SOUTH WALES GUARDIAN</text><use href="#g" x="233" y="629"/></g>
<g class="n" id="n108"><rect x="152" y="644.3" width="92.7" height="17.4"/><text x="158.5" y="657">TENBY OBSERVER</text></g>
<g class="n" id="n109"><rect x="167" y="669.3" width="77.7" height="17.4"/><text x="173" y="682">TIVYSIDE</text><use href="#g" x="233" y="678"/></g>
<g class="n" id="n110"><rect x="139" y="694.3" width="105.7" height="17.4"/><text x="145" y="707">WESTERN MAIL</text><use href="#g" x="233" y="703"/></g>
<g class="n" id="n111"><rect x="115" y="719.3" width="129.7" height="17.4"/><text x="121" y="732">WESTERN TELEGRAPH</text><use href="#g" x="233" y="728"/></g>
<g class="n" id="n112"><rect x="274.6" y="818.6" width="68.4" height="17.4"/><text x="281" y="831.3">MAGAZINES</text></g>
<g class="n" id="n113"><rect x="180.6" y="743.3" width="69.4" height="17.4"/><text x="187" y="756">3 COUNTIES</text></g>
<g class="n" id="n114"><rect x="155.6" y="768.3" width="94.4" height="17.4"/><text x="162" y="781">AESTHETICA</text><use href="#g" x="238.3" y="777"/></g>
<g class="n" id="n115"><rect x="143.6" y="793.3" width="106.4" height="17.4"/><text x="150" y="806">ART MONTHLY</text><use href="#g" x="238.3" y="802"/></g>
<g class="n" id="n116"><rect x="114.6" y="818.3" width="135.4" height="17.4"/><text x="121" y="831">ARTS PROFFESSIONAL</text><use href="#g" x="238.3" y="827"/></g>
<g class="n" id="n117"><rect x="194" y="843.3" width="56" height="17.4"/><text x="200" y="856">EXIT</text><use href="#g" x="238.3" y="852"/></g>
<g class="n" id="n118"><rect x="155.6" y="868.3" width="94.4" height="17.4"/><text x="162" y="881">RAW VISION</text><use href="#g" x="238.3" y="877"/></g>
<g class="n" id="n119"><rect x="110.6" y="893.3" width="139.4" height="17.4"/><text x="117" y="906">WORLDWIDE LISTINGS</text><use href="#g" x="238.3" y="902"/></g>
<g class="n" id="n120"><rect x="300" y="968.6" width="43" height="17.4"/><text x="306" y="981.3">RADIO</text></g>
<g class="n" id="n121"><rect x="114.6" y="918.3" width="160.4" height="17.4"/><text x="121" y="931">RADIO CARMARTHENSHIRE</text><use href="#g" x="263.3" y="927"/></g>
<g class="n" id="n122"><rect x="146.6" y="943.3" width="128.4" height="17.4"/><text x="153" y="956">RADIO CEREDIGION</text><use href="#g" x="263.3" y="952"/></g>
<g class="n" id="n123"><rect x="126.6" y="968.3" width="148.4" height="17.4"/><text x="133" y="981">RADIO PEMBROKESHIRE</text><use href="#g" x="263.3" y="977"/></g>
<g class="n" id="n124"><rect x="173.6" y="993.3" width="101.4" height="17.4"/><text x="180" y="1006">RADIO WALES</text><use href="#g" x="263.3" y="1002"/></g>
<g class="n" id="n125"><rect x="147.6" y="1018.3" width="127.4" height="17.4"/><text x="154" y="1031">REAL RADIO WALES</text><use href="#g" x="263.3" y="1027"/></g>
<g class="n" id="n126"><rect x="295.3" y="1093.3" width="48" height="17.4"/><text x="301" y="1106">SOCIAL</text></g>
<g class="n" id="n127"><rect x="182" y="1043.3" width="88.7" height="17.4"/><text x="189" y="1056">FACEBOOK</text><use href="#g" x="259" y="1052"/></g>
<g class="n" id="n128"><rect x="193" y="1068.3" width="77.7" height="17.4"/><text x="200" y="1081">TWITTER</text><use href="#g" x="259" y="1077"/></g>
<g class="n" id="n129"><rect x="193" y="1093.3" width="77.7" height="17.4"/><text x="200" y="1106">LINKEDIN</text><use href="#g" x="259" y="1102"/></g>
<g class="n" id="n130"><rect x="206" y="1118.3" width="64.7" height="17.4"/><text x="212.5" y="1131">FLICKR</text><use href="#g" x="259" y="1127"/></g>
<g class="n" id="n131"><rect x="169" y="1143.3" width="101.7" height="17.4"/><text x="176" y="1156">DEVIANT ART</text><use href="#g" x="259" y="1152"/></g>
<g class="n" id="n132"><rect x="313.3" y="1267.3" width="29.7" height="17.4"/><text x="318" y="1280">WEB</text></g>
<g class="n" id="n133"><rect x="206" y="1168.3" width="82.7" height="17.4"/><text x="213" y="1181">AXIS WEB</text><use href="#g" x="277" y="1177"/></g>
<g class="n" id="n134"><rect x="206" y="1193.3" width="82.7" height="17.4"/><text x="213" y="1206">BEHANCE</text><use href="#g" x="277" y="1202"/></g>
<g class="n" id="n135"><rect x="191" y="1218.3" width="97.7" height="17.4"/><text x="198" y="1231">BRITISH ARTS</text><use href="#g" x="277" y="1227"/></g>
<g class="n" id="n136"><rect x="182" y="1243.3" width="106.7" height="17.4"/><text x="189" y="1256">CARBONMADE</text><use href="#g" x="277" y="1252"/></g>
<g class="n" id="n137"><rect x="218.5" y="1268.3" width="70.2" height="17.4"/><text x="225" y="1281">FIGDIG</text><use href="#g" x="277" y="1277"/></g>
<g class="n" id="n138"><rect x="177" y="1293.3" width="111.7" height="17.4"/><text x="184" y="1306">MOSAIC GLOBE</text><use href="#g" x="277" y="1302"/></g>
<g class="n" id="n139"><rect x="168" y="1318.3" width="120.7" height="17.4"/><text x="175" y="1331">NEW BRITISH ART</text><use href="#g" x="277" y="1327"/></g>
<g class="n" id="n140"><rect x="215" y="1343.3" width="73.7" height="17.4"/><text x="221" y="1356">SHOWD</text><use href="#g" x="277" y="1352"/></g>
<g class="n" id="n141"><rect x="197" y="1368.3" width="91.7" height="17.4"/><text x="204" y="1381">VIEWBOOK</text><use href="#g" x="277" y="1377"/></g>
<g class="n" id="n142"><rect x="376.6" y="1553.3" width="80.8" height="29"/><text x="383" y="1564">ARTS CENTRES</text><text x="383" y="1576">&amp; THEATRES</text></g>
<g class="n" id="n143"><rect x="282" y="1446.3" width="69.7" height="17.4"/><text x="288.5" y="1459">CEREDIGION</text></g>
<g class="n" id="n144"><rect x="157.6" y="1420.3" width="99.4" height="17.4"/><text x="164" y="1433">ABERYSTWYTH</text><use href="#g" x="245.7" y="1429"/></g>
<g class="n" id="n145"><rect x="183" y="1445.3" width="74" height="17.4"/><text x="189.5" y="1458">MWLDAN</text><use href="#g" x="245.7" y="1454"/></g>
<g class="n" id="n146"><rect x="129.6" y="1470.3" width="127.4" height="17.4"/><text x="136" y="1483">THEATR FELINFACH</text><use href="#g" x="245.7" y="1479"/></g>
<g class="n" id="n147"><rect x="244" y="1546.3" width="107.7" height="17.4"/><text x="250" y="1559">PEMBROKESHIRE</text><use href="#g" x="340.3" y="1555"/></g>
<g class="n" id="n148"><rect x="17.6" y="1495.3" width="201.4" height="17.4"/><text x="24" y="1508">ARTists PEMBROKESHIRE (VIRTUAL)</text><use href="#g" x="207.3" y="1504"/></g>
<g class="n" id="n149"><rect x="128.6" y="1520.3" width="90.4" height="17.4"/><text x="135" y="1533">PEMBSAMTH</text><use href="#g" x="207.3" y="1529"/></g>
<g class="n" id="n150"><rect x="164" y="1545.3" width="55" height="17.4"/><text x="170" y="1558">SPAN</text><use href="#g" x="207.3" y="1554"/></g>
<g class="n" id="n151"><rect x="109.6" y="1570.3" width="109.4" height="17.4"/><text x="116" y="1583">TORCH THEATRE</text><use href="#g" x="207.3" y="1579"/></g>
<g class="n" id="n152"><rect x="58" y="1595.3" width="161" height="17.4"/><text x="64" y="1608">WEST WALES ARTS CENTRE</text><use href="#g" x="207.3" y="1604"/></g>
<g class="n" id="n153"><rect x="246.6" y="1658" width="105" height="17.4"/><text x="253" y="1670.7">CARMARTHENSHIRE</text></g>
<g class="n" id="n154"><rect x="86" y="1620.3" width="136" height="17.4"/><text x="92" y="1633">AMMANFORD MINERS</text><use href="#g" x="210.3" y="1629"/></g>
<g class="n" id="n155"><rect x="77.6" y="1645.3" width="144.4" height="17.4"/><text x="84" y="1658">LLANDOVERY THEATRE</text><use href="#g" x="210.3" y="1654"/></g>
<g class="n" id="n156"><rect x="143.6" y="1670.3" width="78.4" height="17.4"/><text x="150" y="1683">THE LYRIC</text><use href="#g" x="210.3" y="1679"/></g>
<g class="n" id="n157"><rect x="128" y="1695.3" width="94" height="17.4"/><text x="134" y="1708">THEATR ELLI</text><use href="#g" x="210.3" y="1704"/></g>
<g class="n" id="n158"><rect x="324" y="1746.3" width="133.4" height="17.4"/><text x="330" y="1759">COUNTY ARTS OFFICERS</text></g>
<g class="n" id="n159"><rect x="175.6" y="1720.3" width="123.4" height="17.4"/><text x="182" y="1733">CARMARTHENSHIRE</text><use href="#k" x="287.3" y="1729"/></g>
<g class="n" id="n160"><rect x="210.6" y="1745.3" width="88.4" height="17.4"/><text x="217" y="1758">CEREDIGION</text><use href="#k" x="287.3" y="1754"/></g>
<g class="n" id="n161"><rect x="172.6" y="1770.3" width="126.4" height="17.4"/><text x="179" y="1783">PEMBROKESHIRE</text><use href="#k" x="287.3" y="1779"/></g>
<g class="n" id="n162"><rect x="398" y="1846.3" width="59.4" height="17.4"/><text x="404" y="1859">COLLEGES</text></g>
<g class="n" id="n163"><rect x="264.6" y="1795.3" width="108.4" height="17.4"/><text x="271" y="1808">COLEG SIR GÂR</text><use href="#g" x="361.3" y="1804"/></g>
<g class="n" id="n164"><rect x="135.6" y="1820.3" width="237.4" height="17.4"/><text x="142" y="1833">LEARNING PEMBROKESHIRE ARTS COURSES</text><use href="#g" x="361.3" y="1829"/></g>
<g class="n" id="n165"><rect x="220.6" y="1845.3" width="152.4" height="17.4"/><text x="227" y="1858">THE LITTLE ART SCHOOL</text><use href="#g" x="361.3" y="1854"/></g>
<g class="n" id="n166"><rect x="213.6" y="1870.3" width="159.4" height="17.4"/><text x="220" y="1883">PEMBROKESHIRE COLLEGE</text><use href="#g" x="361.3" y="1879"/></g>
<g class="n" id="n167"><rect x="249" y="1895.3" width="124" height="17.4"/><text x="255.5" y="1908">TRINITY ST. DAVID</text><use href="#g" x="361.3" y="1904"/></g>
<g class="n" id="n168"><rect x="396.6" y="1983.6" width="60.8" height="17.4"/><text x="403" y="1996.3">FESTIVALS</text></g>
<g class="n" id="n169"><rect x="175.6" y="1920.3" width="196.4" height="17.4"/><text x="182" y="1933">CARMARTHEN BAY FILM FESTIVAL</text><use href="#g" x="360.3" y="1929"/></g>
<g class="n" id="n170"><rect x="287.6" y="1945.3" width="84.4" height="17.4"/><text x="294" y="1958">FISHGUARD</text><use href="#g" x="360.3" y="1954"/></g>
<g class="n" id="n171"><rect x="222.6" y="1970.3" width="149.4" height="17.4"/><text x="229" y="1983">HEART OF THE DRAGON</text><use href="#g" x="360.3" y="1979"/></g>
<g class="n" id="n172"><rect x="254.6" y="1995.3" width="117.4" height="17.4"/><text x="261" y="2008">MERLIN FESTIVAL</text><use href="#g" x="360.3" y="2004"/></g>
<g class="n" id="n173"><rect x="264.6" y="2020.3" width="107.4" height="17.4"/><text x="271" y="2033">SMALL NATIONS</text><use href="#g" x="360.3" y="2029"/></g>
<g class="n" id="n174"><rect x="311.6" y="2045.3" width="60.4" height="17.4"/><text x="318" y="2058">TENBY</text><use href="#g" x="360.3" y="2054"/></g>
<g class="n" id="n175"><rect x="397" y="2396.3" width="60" height="17.4"/><text x="403" y="2409">GALLERIES</text></g>
<g class="n" id="n176"><rect x="302.3" y="2133.6" width="69.7" height="17.4"/><text x="308.5" y="2146.3">CEREDIGION</text></g>
<g class="n" id="n177"><rect x="105" y="2070.3" width="172" height="17.4"/><text x="111" y="2083">CARDIGAN CORN EXCHANGE</text><use href="#g" x="265.3" y="2079"/></g>
<g class="n" id="n178"><rect x="117" y="2095.3" width="160" height="17.4"/><text x="123" y="2108">CARDIGAN OPEN STUDIOS</text><use href="#g" x="265.3" y="2104"/></g>
<g class="n" id="n179"><rect x="138" y="2120.3" width="139" height="17.4"/><text x="144" y="2133">CEREDIGION MUSEUM</text><use href="#g" x="265.3" y="2129"/></g>
<g class="n" id="n180"><rect x="164" y="2145.3" width="113" height="17.4"/><text x="170" y="2158">CUSTOM HOUSE</text><use href="#g" x="265.3" y="2154"/></g>
<g class="n" id="n181"><rect x="192" y="2170.3" width="85" height="17.4"/><text x="198" y="2183">RHIANNON</text><use href="#g" x="265.3" y="2179"/></g>
<g class="n" id="n182"><rect x="140" y="2195.3" width="137" height="17.4"/><text x="146" y="2208">THE STUDIO GALLERY</text><use href="#g" x="265.3" y="2204"/></g>
<g class="n" id="n183"><rect x="264" y="2383" width="108" height="17.4"/><text x="270" y="2395.7">PEMBROKESHIRE</text><use href="#g" x="360.3" y="2391.7"/></g>
<g class="n" id="n184"><rect x="137" y="2220.3" width="102" height="17.4"/><text x="143" y="2233">CELTIC IMAGES</text><use href="#g" x="227.3" y="2229"/></g>
<g class="n" id="n185"><rect x="125.6" y="2245.3" width="113.4" height="17.4"/><text x="132" y="2258">HARBOUR LIGHTS</text><use href="#g" x="227.3" y="2254"/></g>
<g class="n" id="n186"><rect x="148" y="2270.3" width="91" height="17.4"/><text x="154" y="2283">MB Fine Arts</text><use href="#g" x="227.3" y="2279"/></g>
<g class="n" id="n187"><rect x="117.6" y="2295.3" width="121.4" height="17.4"/><text x="124" y="2308">ORIEL GLAN Y MOR</text><use href="#g" x="227.3" y="2304"/></g>
<g class="n" id="n188"><rect x="171" y="2320.3" width="68" height="17.4"/><text x="177" y="2333">ORIEL Q</text><use href="#g" x="227.3" y="2329"/></g>
<g class="n" id="n189"><rect x="144.6" y="2345.3" width="94.4" height="17.4"/><text x="151" y="2358">ORIEL Y FELIN</text><use href="#g" x="227.3" y="2354"/></g>
<g class="n" id="n190"><rect x="143.6" y="2370.3" width="95.4" height="17.4"/><text x="150" y="2383">ORIEL Y PARC</text><use href="#g" x="227.3" y="2379"/></g>
<g class="n" id="n191"><rect x="142" y="2395.3" width="97" height="17.4"/><text x="148" y="2408">PEBBLES YARD</text><use href="#g" x="227.3" y="2404"/></g>
<g class="n" id="n192"><rect x="134" y="2420.3" width="105" height="17.4"/><text x="140" y="2433">PICTON CASTLE</text><use href="#g" x="227.3" y="2429"/></g>
<g class="n" id="n193"><rect x="163" y="2445.3" width="76" height="17.4"/><text x="169" y="2458">PURE ART</text><use href="#g" x="227.3" y="2454"/></g>
<g class="n" id="n194"><rect x="138.6" y="2470.3" width="100.4" height="17.4"/><text x="145" y="2483">ST. DOGMAELS</text><use href="#g" x="227.3" y="2479"/></g>
<g class="n" id="n195"><rect x="39.6" y="2495.3" width="199.4" height="17.4"/><text x="46" y="2508">TENBY MUSEUM 'NEW ART' GALLERY</text><use href="#g" x="227.3" y="2504"/></g>
<g class="n" id="n196"><rect x="72.6" y="2520.3" width="166.4" height="17.4"/><text x="79" y="2533">WHITE LION STREET GALLERY</text><use href="#g" x="227.3" y="2529"/></g>
<g class="n" id="n197"><rect x="118.6" y="2545.3" width="120.4" height="17.4"/><text x="125" y="2558">WORKSHOP WALES</text><use href="#g" x="227.3" y="2554"/></g>
<g class="n" id="n198"><rect x="266.6" y="2646.3" width="105.4" height="17.4"/><text x="273" y="2659">CARMARTHENSHIRE</text></g>
<g class="n" id="n199"><rect x="145.6" y="2570.3" width="96.4" height="17.4"/><text x="152" y="2583">ABERGLASNEY</text><use href="#g" x="230.3" y="2579"/></g>
<g class="n" id="n200"><rect x="18.6" y="2595.3" width="223.4" height="17.4"/><text x="25" y="2608">CARMARTHENSHIRE CENTRE FOR CRAFTS</text><use href="#g" x="230.3" y="2604"/></g>
<g class="n" id="n201"><rect x="110.6" y="2620.3" width="131.4" height="17.4"/><text x="117" y="2633">FOUNTAIN FINE ART</text><use href="#g" x="230.3" y="2629"/></g>
<g class="n" id="n202"><rect x="107.6" y="2645.3" width="134.4" height="17.4"/><text x="114" y="2658">KING STREET GALLERY</text><use href="#g" x="230.3" y="2654"/></g>
<g class="n" id="n203"><rect x="67.6" y="2670.3" width="174.4" height="17.4"/><text x="74" y="2683">NATIONAL BOTANIC GARDENS</text><use href="#g" x="230.3" y="2679"/></g>
<g class="n" id="n204"><rect x="136.6" y="2695.3" width="105.4" height="17.4"/><text x="143" y="2708">ORIEL MYRDDIN</text><use href="#g" x="230.3" y="2704"/></g>
<g class="n" id="n205"><rect x="93.6" y="2720.3" width="148.4" height="17.4"/><text x="100" y="2733">PARC HOWARD MUSEUM</text><use href="#g" x="230.3" y="2729"/></g>
<g class="n" id="n206"><rect x="403" y="2758.3" width="54.4" height="17.4"/><text x="409" y="2771">OUTLETS</text></g>
<g class="n" id="n207"><rect x="247.6" y="2746" width="130.4" height="17.4"/><text x="254" y="2758.7">NEWARTISTS CARDS</text><use href="#g" x="366.3" y="2754.7"/></g>
<g class="n" id="n208"><rect x="239.6" y="2771" width="138.4" height="17.4"/><text x="246" y="2783.7">NEWPORT COLLECTIVE</text><use href="#g" x="366.3" y="2779.7"/></g>
<g class="n" id="n209"><rect x="375" y="2801" width="82.4" height="17.4"/><text x="381" y="2813.7">PUBLICATIONS</text></g>
<g class="n" id="n210"><rect x="174" y="2795.6" width="176" height="29.4"/><text x="180" y="2807.3">ARTists PEMBROKESHIRE ARTicles</text><text x="180" y="2819">and pARTicles</text></g>
</g>
<g id="expanders">
<use href="#x" x="1054.3" y="39.5"/><use href="#x" x="1093.3" y="102"/><use href="#x" x="1097.3" y="277.3"/><use href="#x" x="1084.3" y="627.5"/><use href="#x" x="962.3" y="795"/><use href="#x" x="1092.3" y="1102"/><use href="#x" x="1240.3" y="852"/><use href="#x" x="1187.3" y="902"/><use href="#x" x="1207.3" y="977"/><use href="#x" x="1182.3" y="1189.3"/><use href="#x" x="1080.4" y="1469"/><use href="#x" x="1181.6" y="1401.8"/><use href="#x" x="1294" y="1506"/><use href="#x" x="1442.5" y="1463"/><use href="#x" x="1389.4" y="1519"/><use href="#x" x="1409.4" y="1562"/><use href="#x" x="973" y="1765"/><use href="#x" x="1154.4" y="1690.3"/><use href="#x" x="1284.3" y="1627.7"/><use href="#x" x="1249.7" y="1665.5"/><use href="#x" x="1269.7" y="1727.3"/><use href="#x" x="1036.4" y="1851.6"/><use href="#x" x="1117.4" y="1814.3"/><use href="#x" x="1116.2" y="1876.4"/>
<use href="#x" x="444" y="438"/><use href="#x" x="359.3" y="965"/><use href="#x" x="261.3" y="641.3"/><use href="#x" x="266.7" y="827.3"/><use href="#x" x="291.3" y="977.3"/><use href="#x" x="286.7" y="1102"/><use href="#x" x="304.5" y="1276"/><use href="#x" x="473.3" y="2122.7"/><use href="#x" x="368" y="1567.5"/><use href="#x" x="273.3" y="1455"/><use href="#x" x="235.3" y="1555"/><use href="#x" x="238.3" y="1666.7"/><use href="#x" x="315.3" y="1755"/><use href="#x" x="389.3" y="1855"/><use href="#x" x="388.3" y="1992.3"/><use href="#x" x="388.3" y="2405"/><use href="#x" x="293.3" y="2142.3"/><use href="#x" x="255.3" y="2391.7"/><use href="#x" x="258.3" y="2655"/><use href="#x" x="394.3" y="2767"/><use href="#x" x="366.3" y="2810"/>
</g>
</svg>
